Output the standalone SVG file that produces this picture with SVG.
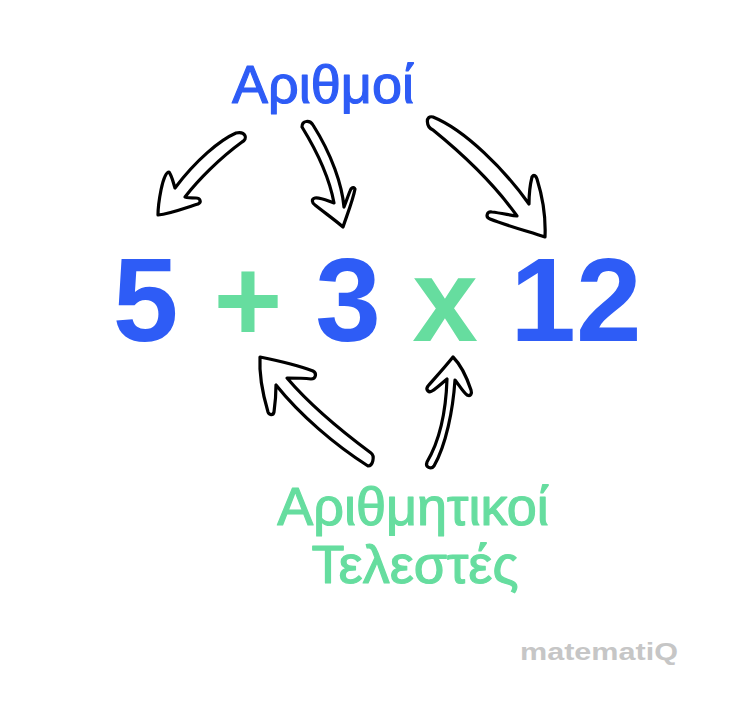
<svg xmlns="http://www.w3.org/2000/svg" width="752" height="718" viewBox="0 0 752 718">
<style>
.num{font-family:"Liberation Sans",Arial,sans-serif;font-weight:bold;font-size:118px;text-anchor:middle}
.blue{fill:#2e5cf6;stroke:#2e5cf6}
.green{fill:#66dd9f;stroke:#66dd9f}
.num.blue,.num.green{stroke:none}
.lbl{font-family:"Liberation Sans",Arial,sans-serif;font-size:54px;text-anchor:middle;stroke-width:1.2;stroke-linejoin:round}
.arrow{fill:#ffffff;stroke:#000000;stroke-width:3.2;stroke-linejoin:round;stroke-linecap:round}
.brand{font-family:"Liberation Sans",Arial,sans-serif;font-weight:bold;font-size:24px;fill:#c6c6c6}
</style>
<rect width="752" height="718" fill="#ffffff"/>
<g id="label-numbers"><text class="lbl blue" x="323" y="103">Αριθμοί</text></g>
<g id="expression">
<text id="n5" class="num blue" x="145.5" y="341">5</text>
<text id="op-plus" class="num green" x="248" y="341">+</text>
<text id="n3" class="num blue" x="348" y="341">3</text>
<text id="op-times" class="num green" x="445" y="341">x</text>
<text id="n12" class="num blue" x="576" y="341">12</text>
</g>
<g id="label-operators">
<text class="lbl green" x="413" y="525">Αριθμητικοί</text>
<text class="lbl green" x="415" y="583">Τελεστές</text>
</g>
<g id="connectors">
<path class="arrow" d="M 236,133 C 220,140 196,160 175,188 C 173,182 172,176 169,172 C 166,172 163,180 161,190 C 159,200 158,208 158,215 C 170,214 185,208 198,204 C 202,202 200,198 196,198 C 192,198 188,198 185,197 C 198,180 220,158 242,142 C 248,139 246,131 236,133 Z"/>
<path class="arrow" d="M 302,127 C 310,140 328,170 334,203 C 328,201 320,197 315,198 C 311,199 312,203 315,205 C 325,213 335,220 343,227 C 347,215 353,200 355,189 C 354,186 351,188 350,191 C 348,196 346,202 344,207 C 342,185 332,155 313,125 C 310,120 302,120 302,127 Z"/>
<path class="arrow" d="M 433,117 C 465,130 505,170 529,204 C 529,195 530,185 532,177 C 534,174 536,176 537,179 C 542,195 546,215 545,237 C 530,232 505,225 490,219 C 485,217 487,211 492,212 C 500,213 510,215 517,216 C 500,192 470,160 433,130 C 426,127 425,115 433,117 Z"/>
<path class="arrow" d="M 260,357 C 280,361 300,366 313,371 C 317,373 316,379 311,379 C 303,378 295,378 287,378 C 310,405 340,430 371,453 C 375,456 373,466 368,466 C 335,445 300,415 276,385 C 276,395 275,405 274,412 C 273,416 269,415 268,412 C 263,395 259,375 260,357 Z"/>
<path class="arrow" d="M 453,357 C 445,367 435,378 428,386 C 425,390 429,393 432,391 C 437,388 442,383 447,379 C 446,410 440,440 427,462 C 425,467 431,470 434,466 C 446,445 453,410 455,380 C 459,385 463,392 467,395 C 471,397 472,393 471,390 C 467,378 461,365 453,357 Z"/>
</g>
<g id="brand"><text class="brand" x="520" y="660" textLength="158" lengthAdjust="spacingAndGlyphs">matematiQ</text></g>
</svg>
